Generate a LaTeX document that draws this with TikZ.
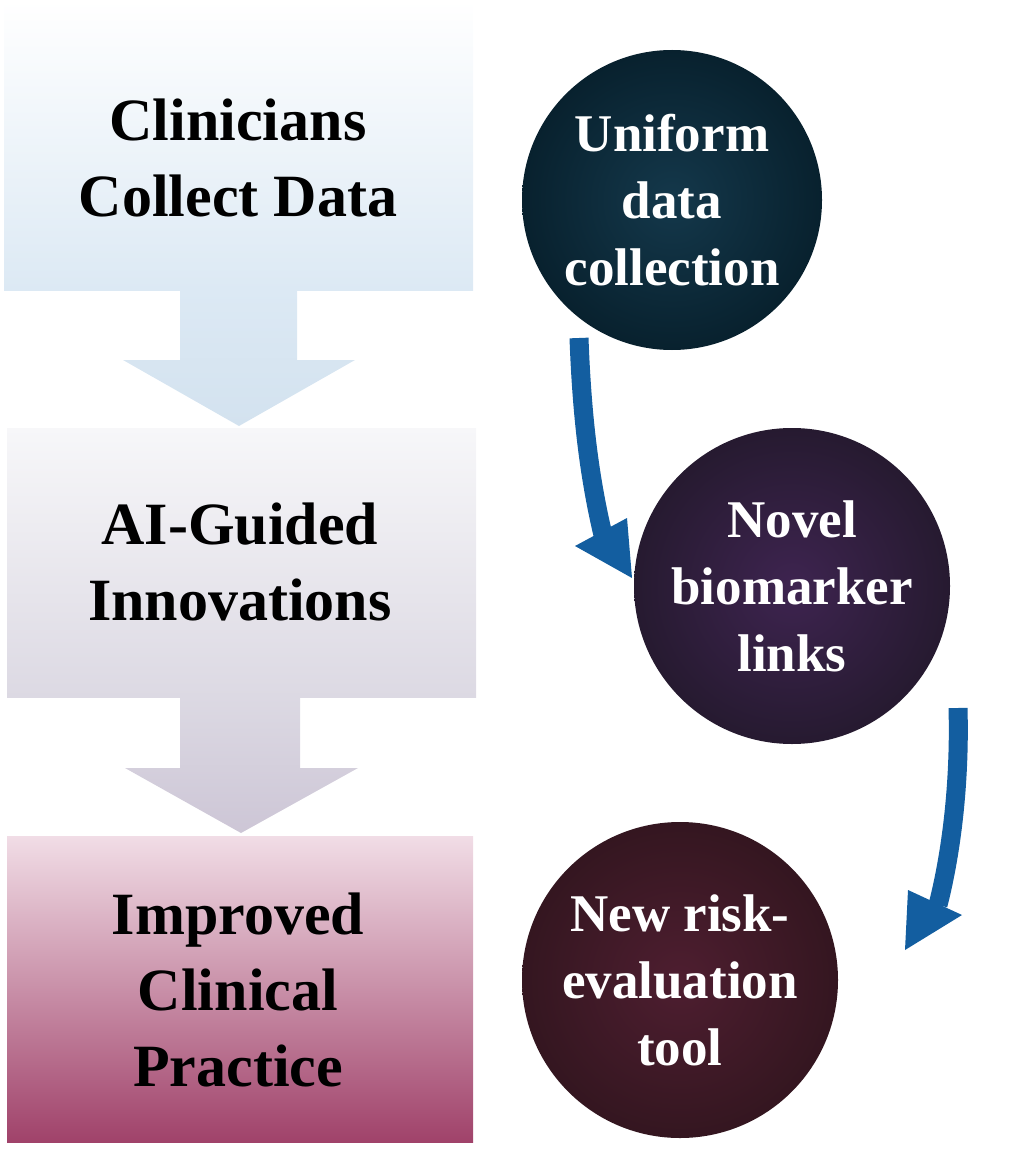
\documentclass[tikz,border=0pt]{standalone}
\usepackage{fontspec}
\setmainfont{Liberation Serif}
\begin{document}
\begin{tikzpicture}[x=1pt,y=-1pt,
 box/.style={inner sep=0pt},
 ltext/.style={font=\bfseries\fontsize{60}{76}\selectfont,align=center,text=black},
 ctext/.style={font=\bfseries\fontsize{53}{67}\selectfont,align=center,text=white},
 circ/.style={circle,draw=none,minimum size=#1,inner sep=0pt},
 barrow/.style={line width=19pt,color={rgb,255:red,19;green,94;blue,160}}]
\useasboundingbox (0,0) rectangle (1020,1150);
% boxes
\shade[top color=white,bottom color={rgb,255:red,220;green,233;blue,244}] (4,0) rectangle (473,290);
\shade[top color={rgb,255:red,220;green,233;blue,244},bottom color={rgb,255:red,211;green,226;blue,239}] (180,289) -- (297,289) -- (297,360) -- (355,360) -- (239,426) -- (123,360) -- (180,360) -- cycle;
\shade[top color={rgb,255:red,247;green,247;blue,249},bottom color={rgb,255:red,220;green,217;blue,227}] (7,428) rectangle (476,697);
\shade[top color={rgb,255:red,220;green,217;blue,227},bottom color={rgb,255:red,205;green,198;blue,214}] (180,696) -- (300,696) -- (300,768) -- (358,768) -- (241,833) -- (125,768) -- (180,768) -- cycle;
\shade[top color={rgb,255:red,241;green,221;blue,230},middle color={rgb,255:red,210;green,170;blue,190},bottom color={rgb,255:red,160;green,66;blue,106}] (7,836) rectangle (473,1142);
\node[ltext] (t1) at (238,158) {Clinicians\\Collect Data};
\node[ltext] (t2) at (240,562) {AI-Guided\\Innovations};
\node[ltext] (t3) at (238,990) {Improved\\Clinical\\Practice};
% circles
\node[circ=300pt,shading=radial,inner color={rgb,255:red,20;green,56;blue,75},outer color={rgb,255:red,8;green,33;blue,46}] (c1) at (672,200) {};
\node[circ=316pt,shading=radial,inner color={rgb,255:red,62;green,36;blue,80},outer color={rgb,255:red,38;green,26;blue,48}] (c2) at (792,586) {};
\node[circ=316pt,shading=radial,inner color={rgb,255:red,78;green,30;blue,48},outer color={rgb,255:red,52;green,22;blue,32}] (c3) at (680,980) {};
\node[ctext] at (c1) {Uniform\\data\\collection};
\node[ctext] at (c2) {Novel\\biomarker\\links};
\node[ctext] at (c3) {New risk-\\evaluation\\tool};
% blue arrows
\coordinate (a1s) at (579,338);
\coordinate (a1e) at (603,535);
\draw[barrow] (a1s) .. controls (582,420) and (590,480) .. (a1e);
\fill[color={rgb,255:red,19;green,94;blue,160}] (575,546) -- (627,518) -- (632,578) -- cycle;
\coordinate (a2s) at (958,708);
\coordinate (a2e) at (938,905);
\draw[barrow] (a2s) .. controls (960,780) and (952,850) .. (a2e);
\fill[color={rgb,255:red,19;green,94;blue,160}] (908,890) -- (962,915) -- (905,950) -- cycle;
\end{tikzpicture}
\end{document}
